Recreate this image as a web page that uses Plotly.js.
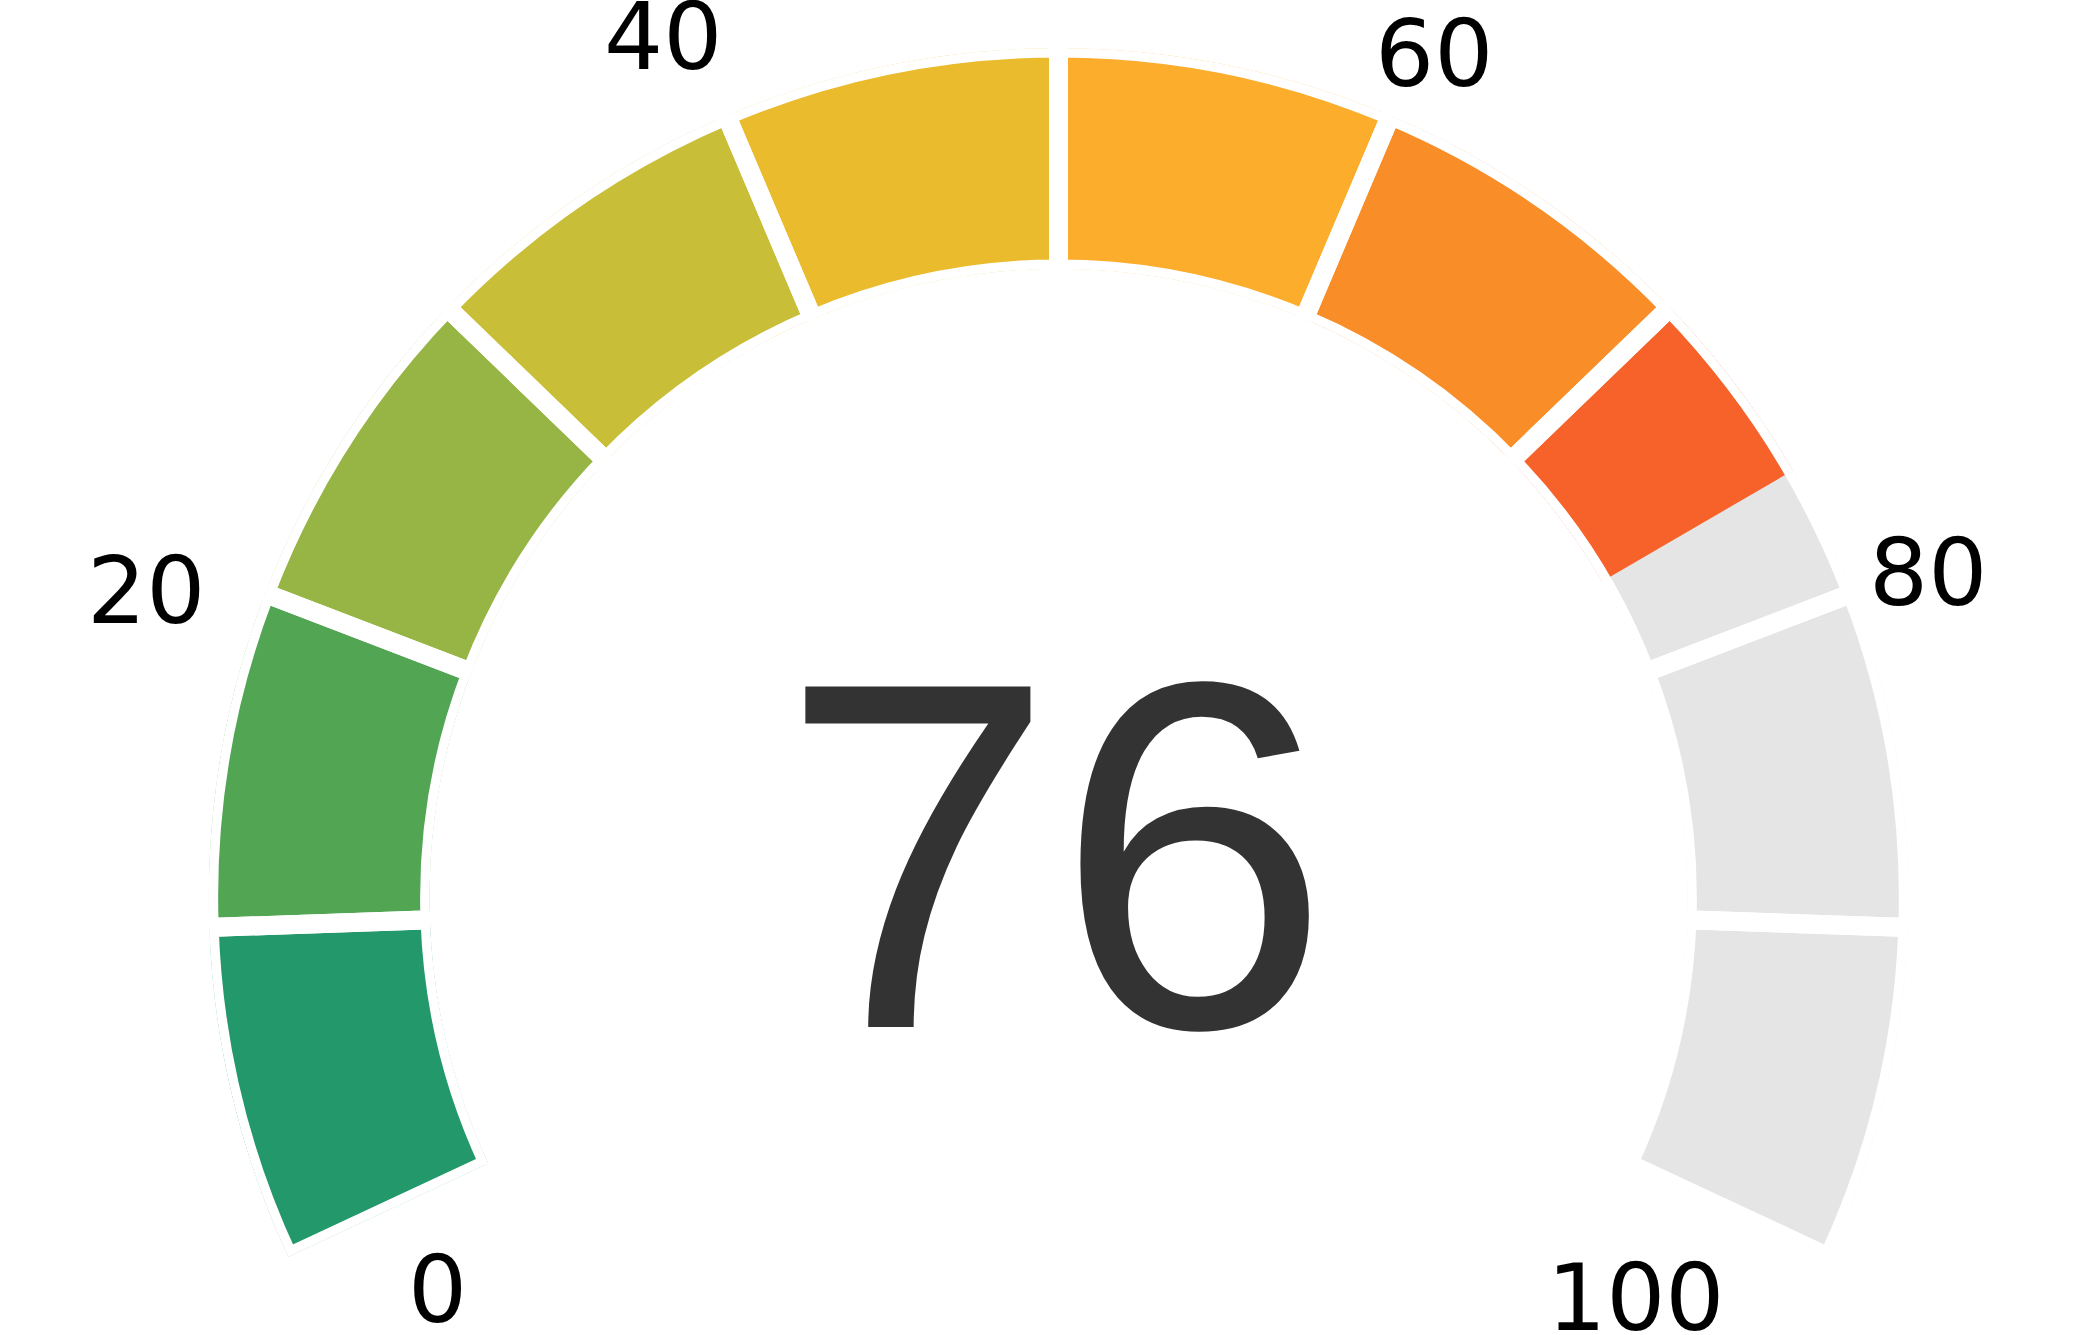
<!DOCTYPE html>
<html>
<head>
<meta charset="utf-8">
<script src="https://cdn.plot.ly/plotly-3.0.1.min.js"></script>
<style>
  html, body { margin: 0; padding: 0; background: #fff; }
  #gauge { width: 2083px; height: 1335px; }
</style>
</head>
<body>
<div id="gauge"></div>
<script>
// gauge data
const VALUE = 76;
const RANGE_MAX = 100;
const SEG_STARTS = [0, 10, 20, 30, 40, 50, 60, 70, 80, 90];
const SEG_WIDTH = 10;
const SEG_COLORS = ['#23986A', '#52A653', '#96B545', '#C8BE37', '#EABB2D',
                    '#FCAD2B', '#F98D27', '#F7622A', '#F24B2F', '#E8362F'];
const TRACK_COLOR = '#E5E5E5';
const TICKS = [0, 20, 40, 60, 80, 100];

// geometry / style
const SWEEP = 230;        // degrees covered by 0..RANGE_MAX
const START_ANGLE = 205;  // where 0 sits (degrees, ccw from 3 o'clock)
const GAP = 19;           // white separator width in px
// where each tick label sits, in paper coords (same order as TICKS)
const TICK_POS = [[0.1352, -0.027], [-0.0362, 0.5508], [0.2675, 1.0095],
                  [0.7208, 0.9950], [1.0112, 0.5661], [0.8395, -0.0335]];

function toDeg(v) { return v * SWEEP / RANGE_MAX; }

const segTheta = SEG_STARTS.map(s => toDeg(s + SEG_WIDTH / 2));
const segWidth = SEG_STARTS.map(() => toDeg(SEG_WIDTH));
const segR = SEG_STARTS.map(() => 1);

// background: finished segments coloured, the rest grey
const baseTrace = {
    type: 'barpolar',
    theta: segTheta,
    width: segWidth,
    r: segR,
    base: 0,
    marker: {
        color: SEG_STARTS.map((s, i) => (s + SEG_WIDTH <= VALUE ? SEG_COLORS[i] : TRACK_COLOR)),
        line: { width: 0 }
    },
    hoverinfo: 'skip'
};

// partial fill of the segment that holds the value
const curIdx = SEG_STARTS.findIndex(s => VALUE > s && VALUE < s + SEG_WIDTH);
const partTrace = {
    type: 'barpolar',
    theta: curIdx >= 0 ? [toDeg((SEG_STARTS[curIdx] + VALUE) / 2)] : [],
    width: curIdx >= 0 ? [toDeg(VALUE - SEG_STARTS[curIdx])] : [],
    r: curIdx >= 0 ? [1] : [],
    base: 0,
    marker: { color: curIdx >= 0 ? SEG_COLORS[curIdx] : TRACK_COLOR, line: { width: 0 } },
    hoverinfo: 'skip'
};

// white separators drawn on top
const gapTrace = {
    type: 'barpolar',
    theta: segTheta,
    width: segWidth,
    r: segR,
    base: 0,
    marker: { color: 'rgba(0,0,0,0)', line: { color: '#ffffff', width: GAP } },
    hoverinfo: 'skip'
};

const labelFont = { family: 'DejaVu Sans', size: 93, color: '#000000' };

const tickAnnotations = TICKS.map((t, i) => ({
    text: String(t),
    xref: 'paper', yref: 'paper',
    x: TICK_POS[i][0], y: TICK_POS[i][1],
    xanchor: 'center', yanchor: 'middle',
    showarrow: false,
    font: labelFont
}));

const layout = {
    width: 2083,
    height: 1335,
    margin: { l: 208, r: 174, t: 47.5, b: 77.6, pad: 0 },
    paper_bgcolor: '#ffffff',
    showlegend: false,
    polar: {
        domain: { x: [0, 1], y: [0, 1] },
        sector: [START_ANGLE - SWEEP, START_ANGLE],
        hole: 0.74,
        bgcolor: '#ffffff',
        radialaxis: { visible: false, range: [0, 1] },
        angularaxis: {
            rotation: START_ANGLE,
            direction: 'clockwise',
            thetaunit: 'degrees',
            showline: false,
            showgrid: false,
            ticks: '',
            showticklabels: false
        }
    },
    annotations: [
        {
            text: String(VALUE), xref: 'paper', yref: 'paper', x: 0.4982, y: 0.3318,
            xanchor: 'center', yanchor: 'middle', showarrow: false,
            font: { family: 'Liberation Sans, Arial, sans-serif', size: 495, color: '#333333' }
        }
    ].concat(tickAnnotations)
};

Plotly.newPlot('gauge', [baseTrace, partTrace, gapTrace], layout, { displayModeBar: false, staticPlot: true });
</script>
</body>
</html>
